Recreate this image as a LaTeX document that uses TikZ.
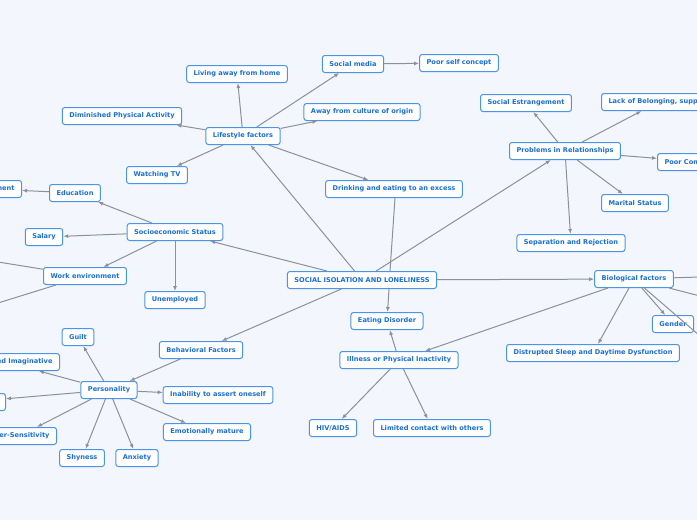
\documentclass[tikz,border=0pt]{standalone}
\usepackage{fontspec}
\setmainfont{DejaVu Sans}
\begin{document}
\begin{tikzpicture}[x=1pt,y=-1pt,
  box/.style={draw=boxblue,fill=white,rounded corners=2.5pt,line width=1pt,text=txtblue,
    font=\fontsize{6.6}{7.5}\selectfont\bfseries,minimum height=17pt,inner xsep=7pt},
  con/.style={draw=lgray,line width=1pt},
  arr/.style={con,-{Latex[length=5pt,width=4pt]}}]
\usetikzlibrary{arrows.meta}
\definecolor{boxblue}{HTML}{4A95E8}
\definecolor{txtblue}{HTML}{1A6FD6}
\definecolor{lgray}{HTML}{8C9099}
\definecolor{bg}{HTML}{F3F6FD}
\fill[bg] (0,0) rectangle (697,520);
\useasboundingbox (0,0) rectangle (697,520);
\node[box] (m) at (362,280) {SOCIAL ISOLATION AND LONELINESS};
\node[box] (ls) at (243,136) {Lifestyle factors};
\node[box] (lah) at (237,74) {Living away from home};
\node[box] (sm) at (353,64) {Social media};
\node[box] (psc) at (459,63) {Poor self concept};
\node[box] (afc) at (362,112) {Away from culture of origin};
\node[box] (dpa) at (122,116) {Diminished Physical Activity};
\node[box] (tv) at (157,175) {Watching TV};
\node[box] (dea) at (394,189) {Drinking and eating to an excess};
\node[box] (ses) at (175,232) {Socioeconomic Status};
\node[box] (edu) at (75,193) {Education};
\node[box,anchor=east] (emp) at (22,189) {Employment};
\node[box] (sal) at (44,237) {Salary};
\node[box] (we) at (85,276) {Work environment};
\node[box] (une) at (175,300) {Unemployed};
\node[box] (bf) at (201,350) {Behavioral Factors};
\node[box] (per) at (109,390) {Personality};
\node[box] (gui) at (78,337) {Guilt};
\node[box,anchor=east] (cre) at (60,362) {Creative and Imaginative};
\node[box,anchor=east] (low) at (6,402) {Low Self-Esteem};
\node[box,anchor=east] (ovs) at (57,436) {Over-Sensitivity};
\node[box] (shy) at (82,458) {Shyness};
\node[box] (anx) at (137,458) {Anxiety};
\node[box] (ina) at (218,395) {Inability to assert oneself};
\node[box] (emo) at (207,432) {Emotionally mature};
\node[box] (ed) at (387,321) {Eating Disorder};
\node[box] (ill) at (399,360) {Illness or Physical Inactivity};
\node[box] (hiv) at (333,428) {HIV/AIDS};
\node[box] (lco) at (432,428) {Limited contact with others};
\node[box] (pir) at (565,151) {Problems in Relationships};
\node[box] (se) at (526,103) {Social Estrangement};
\node[box,anchor=west] (lob) at (601,102) {Lack of Belonging, support};
\node[box,anchor=west] (pco) at (657,162) {Poor Communication};
\node[box] (ms) at (635,203) {Marital Status};
\node[box] (sr) at (571,243) {Separation and Rejection};
\node[box] (bio) at (634,279) {Biological factors};
\node[box] (gen) at (673,324) {Gender};
\node[box] (dsd) at (593,353) {Distrupted Sleep and Daytime Dysfunction};
\coordinate (r1) at (700,277);
\coordinate (r2) at (700,296);
\coordinate (r3) at (700,336);
\coordinate (l1) at (-2,262);
\coordinate (l2) at (-2,303);

\draw[arr] (m) -- (ls);
\draw[arr] (m) -- (ses);
\draw[arr] (m) -- (bf);
\draw[arr] ([xshift=27pt]m.south) -- (ed);
\draw[arr] (m) -- (pir);
\draw[arr] (m) -- (bio);
\draw[con] (dea.south) ++(1,0) -- ([xshift=28pt]m.north);
\draw[arr] (ls) -- (lah);
\draw[arr] (ls) -- (sm);
\draw[arr] (ls) -- (afc);
\draw[arr] (ls) -- (dpa);
\draw[arr] (ls) -- (tv);
\draw[arr] (ls) -- (dea);
\draw[arr] (sm) -- (psc);
\draw[arr] (ses) -- (edu);
\draw[arr] (edu) -- (emp);
\draw[arr] (ses) -- (sal);
\draw[arr] (ses) -- (we);
\draw[arr] (ses) -- (une);
\draw[con] (we) -- (l1);
\draw[con] (we) -- (l2);
\draw[arr] (bf) -- (per);
\draw[arr] (per) -- (gui);
\draw[arr] (per) -- (cre);
\draw[arr] (per) -- (low);
\draw[arr] (per) -- (ovs);
\draw[arr] (per) -- (shy);
\draw[arr] (per) -- (anx);
\draw[arr] (per) -- (ina);
\draw[arr] (per) -- (emo);
\draw[arr] (ill) -- (ed);
\draw[arr] (ill) -- (hiv);
\draw[arr] (ill) -- (lco);
\draw[arr] (pir) -- (se);
\draw[arr] (pir) -- (lob);
\draw[arr] (pir) -- (pco);
\draw[arr] (pir) -- (ms);
\draw[arr] (pir) -- (sr);
\draw[arr] (bio) -- (ill);
\draw[arr] (bio) -- (dsd);
\draw[arr] (bio) -- (gen);
\draw[con] (bio) -- (r1);
\draw[con] (bio) -- (r2);
\draw[con] (bio) -- (r3);
\end{tikzpicture}
\end{document}
